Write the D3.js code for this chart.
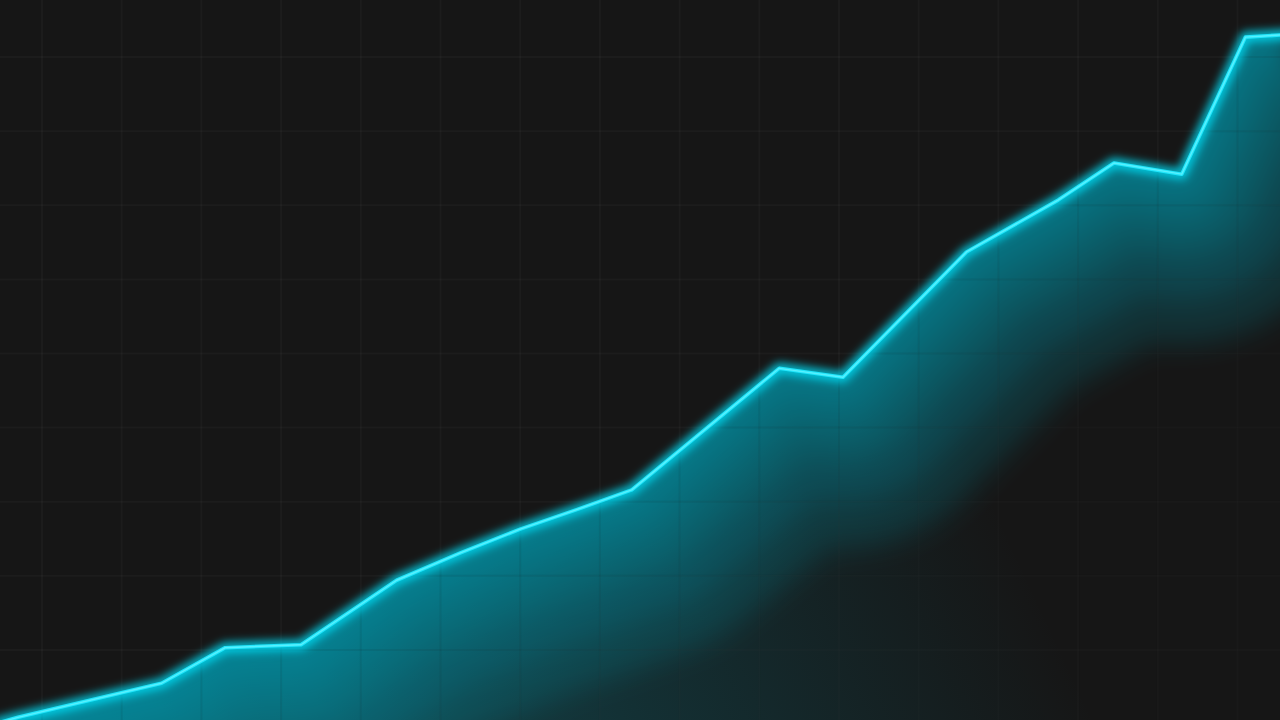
<!DOCTYPE html>
<html>
<head>
<meta charset="utf-8">
<script src="https://cdn.jsdelivr.net/npm/d3@7"></script>
<style>
html,body{margin:0;padding:0;background:#161616;overflow:hidden;}
svg{display:block;}
</style>
</head>
<body>
<svg id="chart" width="1280" height="720"></svg>
<script>
// Data (x in grid-column units, y in value units, 10 per horizontal grid step)
const xValues = [0.4, 0.7, 2.5, 3.3, 4.25, 5.45, 6.25, 7.0, 7.7, 8.4, 10.25, 11.05, 12.6, 13.75, 14.45, 15.3, 16.1, 16.7];
const yValues = [0, 0.9, 5.5, 10.3, 10.7, 19.4, 23.1, 26.3, 28.9, 31.6, 48.0, 46.8, 63.7, 70.7, 75.7, 74.2, 92.7, 93.1];
const xGridTicks = d3.range(0, 18, 1);
const yGridTicks = d3.range(0, 110, 10);

const W = 1280, H = 720;
const svg = d3.select("#chart");
const x = d3.scaleLinear().domain([0, 16]).range([-37.7, 1237.5]);
const y = d3.scaleLinear().domain([0, 100]).range([724, -17]);
const data = xValues.map((v, i) => ({x: v, y: yValues[i]}));

const defs = svg.append("defs");
const glowF = defs.append("filter").attr("id", "glow").attr("x", "-20%").attr("y", "-20%").attr("width", "140%").attr("height", "140%");
glowF.append("feGaussianBlur").attr("stdDeviation", 4);
const softF = defs.append("filter").attr("id", "soft").attr("x", "-20%").attr("y", "-20%").attr("width", "140%").attr("height", "140%");
softF.append("feGaussianBlur").attr("stdDeviation", 14);

const lg = defs.append("linearGradient").attr("id", "baseFill")
  .attr("gradientUnits", "userSpaceOnUse").attr("x1", 0).attr("y1", 720).attr("x2", 900).attr("y2", 300);
lg.append("stop").attr("offset", "0%").attr("stop-color", "#0893a6").attr("stop-opacity", 0.5);
lg.append("stop").attr("offset", "100%").attr("stop-color", "#0893a6").attr("stop-opacity", 0.0);

const area = d3.area().x(d => x(d.x)).y0(H + 20).y1(d => y(d.y));
const line = d3.line().x(d => x(d.x)).y(d => y(d.y));

defs.append("clipPath").attr("id", "areaClip").append("path").attr("d", area(data));

svg.append("rect").attr("width", W).attr("height", H).attr("fill", "#161616");

// grid
const grid = svg.append("g").attr("stroke", "#ffffff").attr("stroke-opacity", 0.028).attr("stroke-width", 2);
grid.selectAll("line.v").data(xGridTicks).join("line").attr("class", "v")
  .attr("x1", d => x(d)).attr("x2", d => x(d)).attr("y1", 0).attr("y2", H);
grid.selectAll("line.h").data(yGridTicks).join("line").attr("class", "h")
  .attr("y1", d => y(d)).attr("y2", d => y(d)).attr("x1", 0).attr("x2", W);

const fillG = svg.append("g").attr("clip-path", "url(#areaClip)");
fillG.append("path").attr("d", area(data)).attr("fill", "url(#baseFill)");
const glowG = fillG.append("g").attr("filter", "url(#soft)");
[340, 250, 170, 110, 60, 24].forEach(w => {
  glowG.append("path").attr("d", line(data)).attr("fill", "none")
    .attr("stroke", "#079db0").attr("stroke-opacity", 0.2)
    .attr("stroke-width", w).attr("stroke-linejoin", "round");
});
// faint grid showing through the fill
const grid2 = svg.append("g").attr("stroke", "#000000").attr("stroke-opacity", 0.08).attr("stroke-width", 2).attr("clip-path", "url(#areaClip)");
grid2.selectAll("line.v").data(xGridTicks).join("line").attr("class", "v")
  .attr("x1", d => x(d)).attr("x2", d => x(d)).attr("y1", 0).attr("y2", H);
grid2.selectAll("line.h").data(yGridTicks).join("line").attr("class", "h")
  .attr("y1", d => y(d)).attr("y2", d => y(d)).attr("x1", 0).attr("x2", W);

// glowing line
svg.append("path").attr("d", line(data)).attr("fill", "none")
  .attr("stroke", "#00d8f0").attr("stroke-width", 11).attr("stroke-opacity", 0.85)
  .attr("stroke-linejoin", "round").attr("filter", "url(#glow)");
svg.append("path").attr("d", line(data)).attr("fill", "none")
  .attr("stroke", "#22e6fb").attr("stroke-width", 3.6).attr("stroke-linejoin", "round");
svg.append("path").attr("d", line(data)).attr("fill", "none")
  .attr("stroke", "#7ff6ff").attr("stroke-width", 1.4).attr("stroke-opacity", 0.6).attr("stroke-linejoin", "round");
</script>
</body>
</html>
